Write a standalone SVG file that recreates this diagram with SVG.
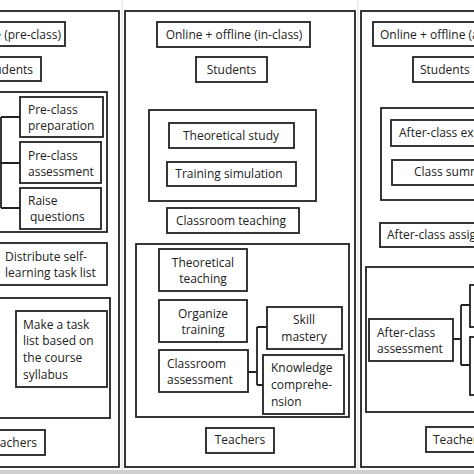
<svg xmlns="http://www.w3.org/2000/svg" width="474" height="474" viewBox="0 0 474 474">
<style>
rect.b{fill:none;stroke:#222;stroke-width:1.8}
rect.p{fill:none;stroke:#222;stroke-width:1.8}
text{font-family:"Open Sans","Liberation Sans",sans-serif;font-size:12px;fill:#222}
.c{text-anchor:middle}
.e{text-anchor:end}
.ln{fill:none;stroke:#222;stroke-width:1.8}
</style>
<rect x="0" y="0" width="474" height="474" fill="#fff"/>
<rect x="0" y="470" width="474" height="4" fill="#cfcfcf"/>
<line x1="122" y1="0" x2="122" y2="470" stroke="#ddd" stroke-width="1"/>
<line x1="358" y1="0" x2="358" y2="470" stroke="#ddd" stroke-width="1"/>

<!-- Left panel (pre-class) -->
<g id="panel-pre">
<rect class="p" x="-200" y="11" width="319" height="456"/>
</g>
<g id="pre-title"><rect class="b" x="-150" y="22" width="215" height="24"/><text class="e" x="61" y="39">Online + offline (pre-class)</text></g>
<g id="pre-students"><rect class="b" x="-60" y="57" width="101" height="24"/><text class="e" x="33" y="74">Students</text></g>
<g id="pre-inner"><rect class="b" x="-60" y="92" width="167" height="140"/></g>
<g id="pre-prep"><rect class="b" x="20" y="97" width="83" height="40"/><text x="28" y="114">Pre-class</text><text x="28" y="130">preparation</text></g>
<g id="pre-assess"><rect class="b" x="20" y="142" width="81" height="41"/><text x="28" y="160">Pre-class</text><text x="28" y="176">assessment</text></g>
<g id="pre-raise"><rect class="b" x="20" y="188" width="81" height="41"/><text x="28" y="205">Raise</text><text x="30" y="221">questions</text></g>
<g id="pre-distribute"><rect class="b" x="-60" y="243" width="167" height="42"/><text x="5" y="261">Distribute self-</text><text x="5" y="277">learning task list</text></g>
<g id="pre-inner2"><rect class="b" x="-60" y="298" width="170" height="120"/></g>
<g id="pre-tasklist"><rect class="b" x="16" y="311" width="91" height="76"/><text x="23" y="329">Make a task</text><text x="23" y="345">list based on</text><text x="23" y="362">the course</text><text x="23" y="379">syllabus</text></g>
<g id="pre-teachers"><rect class="b" x="-60" y="430" width="105" height="25"/><text class="e" x="37" y="447">Teachers</text></g>

<!-- Middle panel (in-class) -->
<g id="panel-in"><rect class="p" x="125" y="11" width="230" height="456"/></g>
<g id="in-title"><rect class="b" x="157" y="22" width="153" height="25"/><text class="c" x="234" y="39">Online + offline (in-class)</text></g>
<g id="in-students"><rect class="b" x="196" y="57" width="71" height="25"/><text class="c" x="231.5" y="74">Students</text></g>
<g id="in-inner1"><rect class="b" x="149" y="110" width="167" height="91"/></g>
<g id="in-theostudy"><rect class="b" x="169" y="123" width="125" height="25"/><text class="c" x="231" y="140">Theoretical study</text></g>
<g id="in-training"><rect class="b" x="167" y="162" width="129" height="24"/><text class="c" x="229" y="178">Training simulation</text></g>
<g id="in-classteach"><rect class="b" x="167" y="208" width="132" height="25"/><text class="c" x="231" y="225">Classroom teaching</text></g>
<g id="in-inner2"><rect class="b" x="136" y="244" width="213" height="173"/></g>
<g id="in-theoteach"><rect class="b" x="159" y="249" width="88" height="42"/><text class="c" x="203" y="267">Theoretical</text><text class="c" x="203" y="283">teaching</text></g>
<g id="in-organize"><rect class="b" x="159" y="300" width="88" height="42"/><text class="c" x="203" y="318">Organize</text><text class="c" x="203" y="334">training</text></g>
<g id="in-assess"><rect class="b" x="159" y="350" width="89" height="42"/><text x="167" y="368">Classroom</text><text x="167" y="384">assessment</text></g>
<g id="in-skill"><rect class="b" x="267" y="307" width="75" height="42"/><text class="c" x="304" y="324">Skill</text><text class="c" x="304" y="341">mastery</text></g>
<g id="in-knowledge"><rect class="b" x="263" y="355" width="81" height="59"/><text x="271" y="372">Knowledge</text><text x="271" y="389">comprehe-</text><text x="271" y="406">nsion</text></g>
<g id="in-teachers"><rect class="b" x="206" y="428" width="68" height="25"/><text class="c" x="240" y="444">Teachers</text></g>

<!-- Right panel (after-class) -->
<g id="panel-after"><rect class="p" x="361" y="11" width="240" height="456"/></g>
<g id="after-title"><rect class="b" x="373" y="22" width="230" height="24"/><text x="380" y="39">Online + offline (after-class)</text></g>
<g id="after-students"><rect class="b" x="413" y="57" width="72" height="25"/><text x="420" y="74">Students</text></g>
<g id="after-inner1"><rect class="b" x="381" y="108" width="220" height="92"/></g>
<g id="after-exercise"><rect class="b" x="391" y="120" width="130" height="26"/><text x="399" y="137">After-class exercise</text></g>
<g id="after-summary"><rect class="b" x="392" y="160" width="120" height="25"/><text x="414" y="176">Class summary</text></g>
<g id="after-assign"><rect class="b" x="380" y="223" width="160" height="24"/><text x="387" y="239">After-class assignment</text></g>
<g id="after-inner2"><rect class="b" x="366" y="267" width="240" height="145"/></g>
<g id="after-assess"><rect class="b" x="369" y="319" width="84" height="42"/><text x="377" y="337">After-class</text><text x="377" y="353">assessment</text></g>
<g id="after-box1"><rect class="b" x="470" y="285" width="80" height="42"/></g>
<g id="after-box2"><rect class="b" x="470" y="337" width="80" height="58"/></g>
<g id="after-teachers"><rect class="b" x="426" y="427" width="70" height="25"/><text x="433" y="444">Teachers</text></g>

<!-- Connectors -->
<g id="connectors">
<path class="ln" d="M-20 163H1M1 117V208M1 117H20M1 163H20M1 208H20" stroke-width="2.2"/>
<path class="ln" d="M248 372H257M257 327V385M257 327H267M257 385H263"/>
<path class="ln" d="M453 339H461M461 305V365M461 305H470M461 365H470"/>
</g>
</svg>
